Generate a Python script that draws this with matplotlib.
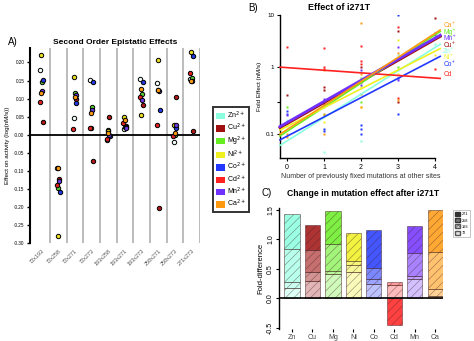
import matplotlib
matplotlib.use("Agg")
import matplotlib.pyplot as plt
from matplotlib.patches import Patch
from matplotlib.ticker import NullLocator
from matplotlib.colors import to_rgba
import numpy as np

plt.rcParams['font.family'] = ['Liberation Sans', 'DejaVu Sans']
plt.rcParams['hatch.linewidth'] = 0.4

metals = ["Zn", "Cu", "Mg", "Ni", "Co", "Cd", "Mn", "Ca"]
metal_colors = ["#8affe0", "#a01010", "#66ee22", "#f0f020", "#2238ff", "#ff2020", "#7030ff", "#ff9a10"]
# panel A dots: Zn shows up almost white
dot_colors = ["#f4fffc", "#b01818", "#55cc33", "#e8e020", "#2238e0", "#e02020", "#6a3ae0", "#ff9a10"]

# ---- panel A: second order epistasis, one list per metal over the pairs
pairs = ["72x193", "72x258", "72x271", "72x273", "193x258",
         "193x271", "193x273", "258x271", "258x273", "271x273"]
epi_zn = [0.180, -0.093, 0.045, 0.152, -0.015, 0.017, 0.155, 0.144, -0.020, 0.153]
epi_cu = [0.035, -0.122, 0.100, -0.072, 0.048, 0.025, 0.083, -0.203, 0.105, 0.010]
epi_mg = [0.145, -0.148, 0.115, 0.077, 0.013, 0.020, 0.112, 0.124, 0.000, 0.158]
epi_ni = [0.220, -0.280, 0.160, 0.018, 0.010, 0.048, 0.055, 0.206, 0.027, 0.228]
epi_co = [0.152, -0.158, 0.088, 0.145, -0.005, 0.020, 0.145, 0.067, 0.018, 0.218]
epi_cd = [0.090, -0.138, 0.015, 0.019, -0.012, 0.033, 0.105, 0.028, -0.005, 0.171]
epi_mn = [0.122, -0.128, 0.110, 0.067, 0.000, 0.018, 0.095, 0.122, 0.026, 0.150]
epi_ca = [0.115, -0.092, 0.105, 0.060, 0.005, 0.040, 0.127, 0.123, 0.004, 0.148]

# ---- panel B: fold effect of i271T vs number of fixed mutations (0..4)
n_fixed = [0, 1, 2, 3, 4]
fold_zn = [[0.16, 0.13], [0.055, 0.2], [0.08, 0.4], [0.9, 1.5], [2.2]]
fold_cu = [[0.38], [0.5, 0.45], [1.0, 0.6], [3.5, 0.3], [5.5]]
fold_mg = [[0.25], [0.19, 0.3], [0.7, 0.3], [8.0, 1.0], [9.0]]
fold_ni = [[0.14], [0.15, 0.25], [0.5, 0.25], [2.5, 0.8], [1.5]]
fold_co = [[0.22, 0.2], [0.12, 0.11, 0.3], [0.136, 0.12, 0.1], [6.0, 0.7, 0.2], [3.2]]
fold_cd = [[2.0], [1.9, 1.0, 0.95], [2.1, 1.25, 1.1], [4.0, 0.35], [0.95]]
fold_mn = [[0.19], [0.33, 0.28], [0.9, 0.55], [2.0, 0.65], [3.0]]
fold_ca = [[0.1, 0.09], [0.9, 0.1, 0.2], [4.5, 0.8, 0.4, 0.25], [7.0, 0.32, 1.6], [7.5]]
# fitted lines: value at 0 fixed mutations and log10 slope per mutation
fit_at0 = [0.079, 0.143, 0.110, 0.130, 0.093, 0.983, 0.149, 0.117]
fit_slope = [0.349, 0.315, 0.360, 0.281, 0.288, -0.039, 0.315, 0.359]
fit_labels = ["Zn⁺", "Cu⁺", "Mg⁺", "Ni⁺", "Co⁺", "Cd", "Mn⁺", "Ca⁺"]

# ---- panel C: stacked change in mutation effect after i271T
seg_72 = [0.18, 0.30, 0.41, 0.45, 0.25, 0.22, 0.33, 0.04]
seg_193 = [0.09, 0.14, 0.06, 0.11, 0.07, 0.05, 0.04, 0.11]
seg_258 = [0.57, 0.37, 0.45, 0.08, 0.20, 0.00, 0.40, 0.64]
seg_271 = [0.58, 0.43, 0.56, 0.47, 0.64, -0.45, 0.46, 0.71]
seg_names = ["72", "193", "258", "271"]

W, H = 474, 341
fig = plt.figure(figsize=(W / 100, H / 100), dpi=100)


def fx(px):
    return px / W


def fy(py):
    return 1 - py / H


# ================= A =================
axA = fig.add_axes([fx(30), fy(243), fx(170), 195 / H])
epi = [epi_zn, epi_cu, epi_mg, epi_ni, epi_co, epi_cd, epi_mn, epi_ca]
offsets = [-0.08, 0.06, 0.0, -0.04, 0.08, -0.1, 0.04, -0.02]
xs = np.arange(len(pairs))
for i in range(len(pairs)):
    axA.axvline(i + 0.5, color="#b0b0b0", lw=1.2, zorder=0)
axA.axhline(0, color="k", lw=1.3, zorder=1)
for m in range(len(metals)):
    axA.scatter(xs + offsets[m], epi[m], s=10, c=dot_colors[m], edgecolors="k",
                linewidths=0.7, zorder=3)
axA.set_xlim(-0.7, 9.5)
axA.set_ylim(-0.30, 0.24)
for s in ["top", "right", "bottom"]:
    axA.spines[s].set_visible(False)
axA.spines["left"].set_linewidth(1.5)
yt = np.arange(-0.30, 0.201, 0.05)
axA.set_yticks(yt)
axA.set_yticklabels(["%.2f" % v for v in yt], fontsize=3.3)
axA.tick_params(axis="y", length=2.5, width=1, pad=1.5)
axA.set_xticks(xs)
axA.set_xticklabels(pairs, rotation=45, ha="right", rotation_mode="anchor",
                    fontsize=4, color="#555555")
axA.tick_params(axis="x", length=0, pad=4)
axA.set_ylabel("Effect on activity (log(nM/s))", fontsize=4.5, labelpad=3)

fig.text(fx(8), fy(42), "A)", fontsize=7, va="center")
fig.text(fx(115), fy(42), "Second Order Epistatic Effects", fontsize=6,
         fontweight="bold", ha="center", va="center")

handles = [Patch(facecolor=c, edgecolor="none") for c in metal_colors]
leg = fig.legend(handles, [m + "$^{2+}$" for m in metals], loc="upper left",
                 bbox_to_anchor=(fx(213), fy(107)), fontsize=5, frameon=True,
                 fancybox=False, handlelength=1.3, handleheight=1.0,
                 handletextpad=0.25, labelspacing=0.15, borderpad=0.4,
                 borderaxespad=0)
leg.get_frame().set_edgecolor("k")
leg.get_frame().set_linewidth(1.4)

# ================= B =================
axB = fig.add_axes([fx(280), fy(158), 160.6 / W, 143 / H])
folds = [fold_zn, fold_cu, fold_mg, fold_ni, fold_co, fold_cd, fold_mn, fold_ca]
for m in range(len(metals)):
    for k, vals in zip(n_fixed, folds[m]):
        axB.plot([k] * len(vals), vals, "s", ms=1.6, color=metal_colors[m],
                 mec="none", zorder=2)
xl = np.array([-0.19, 4.14])
ends = []
for m in range(len(metals)):
    yl = fit_at0[m] * 10 ** (fit_slope[m] * xl)
    lw = 2.0 if metals[m] in ("Cu", "Mn") else 1.2
    axB.plot(xl, yl, color=metal_colors[m], lw=lw, clip_on=False, zorder=3)
    ends.append(np.log10(yl[-1]))
# spread the end labels so they don't collide
order = np.argsort(ends)[::-1]
lab_pos = {}
prev = None
for m in order:
    v = ends[m] + 0.06
    if prev is not None and prev - v < 0.095:
        v = prev - 0.095
    lab_pos[m] = v
    prev = v
for m in range(len(metals)):
    axB.text(4.22, 10 ** lab_pos[m], fit_labels[m], color=metal_colors[m],
             fontsize=4.8, va="center", ha="left", clip_on=False)
axB.set_yscale("log")
axB.set_xlim(-0.19, 4.15)
axB.set_ylim(0.044, 6.0)
axB.yaxis.set_minor_locator(NullLocator())
axB.set_yticks([0.1, 1, 6.0])
axB.set_yticklabels(["0.1", "1", "10"], fontsize=4.5)
axB.set_yticks([0.3], minor=True)
axB.set_xticks(n_fixed)
axB.set_xticklabels([str(v) for v in n_fixed], fontsize=5)
axB.tick_params(which="both", length=2.5, width=0.8, pad=1.5)
for s in ["top", "right"]:
    axB.spines[s].set_visible(False)
axB.spines["bottom"].set_bounds(-0.19, 4)
axB.spines["left"].set_linewidth(1.0)
axB.spines["bottom"].set_linewidth(1.0)
axB.set_xlabel("Number of previously fixed mutations at other sites",
               fontsize=5, color="#333333", labelpad=1.5)
axB.set_ylabel("Fold Effect (nM/s)", fontsize=4.5, labelpad=3)
fig.text(fx(248), fy(8), "B)", fontsize=7, va="center")
fig.text(fx(339), fy(8), "Effect of i271T", fontsize=6.5, fontweight="bold",
         ha="center", va="center")

# ================= C =================
axC = fig.add_axes([fx(279), fy(329), fx(164), 121 / H])
segs = [seg_72, seg_193, seg_258, seg_271]
alphas = [0.3, 0.45, 0.6, 0.85]
xc = np.arange(len(metals))
pos_base = np.zeros(len(metals))
neg_base = np.zeros(len(metals))
for j, seg in enumerate(segs):
    seg = np.array(seg)
    base = np.where(seg >= 0, pos_base, neg_base)
    for i in range(len(metals)):
        if seg[i] == 0:
            continue
        fc = to_rgba(metal_colors[i], alphas[j])
        ec = to_rgba("#402020", 0.55)
        axC.bar(xc[i], seg[i], bottom=base[i], width=0.75, color=fc,
                edgecolor=ec, linewidth=0.6, hatch="////", zorder=2)
    pos_base = pos_base + np.where(seg >= 0, seg, 0)
    neg_base = neg_base + np.where(seg < 0, seg, 0)
axC.axhline(0, color="k", lw=1.2, zorder=3)
axC.set_xlim(-0.63, 7.38)
axC.set_ylim(-0.52, 1.53)
axC.set_yticks([-0.5, 0.0, 0.5, 1.0, 1.5])
axC.set_yticklabels(["-0.5", "0.0", "0.5", "1.0", "1.5"], rotation=90,
                    va="center", fontsize=5)
axC.set_xticks(xc)
axC.set_xticklabels(metals, fontsize=5, color="#444444")
axC.tick_params(axis="both", length=2, width=0.8, pad=1.5)
for s in ["top", "right", "bottom"]:
    axC.spines[s].set_visible(False)
axC.spines["left"].set_linewidth(1.0)
axC.set_ylabel("Fold-difference", fontsize=5.5, labelpad=2)
fig.text(fx(261), fy(193), "C)", fontsize=7, va="center")
fig.text(fx(363), fy(193), "Change in mutation effect after i271T",
         fontsize=6.2, fontweight="bold", ha="center", va="center")

seg_handles = [Patch(facecolor="#333333", edgecolor="#333333"),
               Patch(facecolor="#777777", edgecolor="#333333", hatch="////"),
               Patch(facecolor="#cccccc", edgecolor="#555555", hatch="xx"),
               Patch(facecolor="#e6e6e6", edgecolor="#555555", hatch="----")]
legC = fig.legend(seg_handles, seg_names[::-1], loc="upper left",
                  bbox_to_anchor=(fx(453), fy(210)), fontsize=2.8,
                  frameon=True, fancybox=False, handlelength=1.4,
                  handleheight=1.2, handletextpad=0.4, labelspacing=0.5,
                  borderpad=0.5, borderaxespad=0)
legC.get_frame().set_edgecolor("#999999")
legC.get_frame().set_linewidth(0.5)

fig.savefig("out.png", dpi=100)
